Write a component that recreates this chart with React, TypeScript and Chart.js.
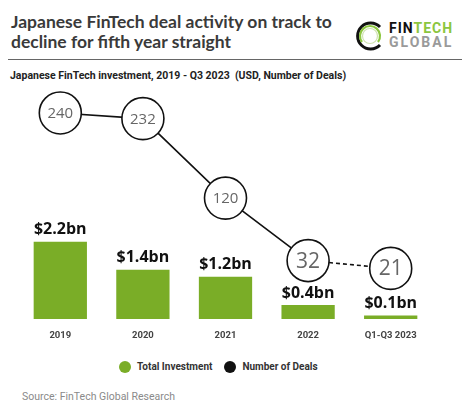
import React, { useEffect, useRef } from 'react';
import { Chart, registerables, Plugin } from 'chart.js';

Chart.register(...registerables);

// data
const categories = ['2019', '2020', '2021', '2022', 'Q1-Q3 2023'];
const investment = [2.2, 1.4, 1.2, 0.4, 0.1];
const investmentLabels = ['$2.2bn', '$1.4bn', '$1.2bn', '$0.4bn', '$0.1bn'];
const deals = [240, 232, 120, 32, 21];

const GREEN = '#7aad27';

// writes the $ values above the bars and the deal counts inside the circles
const labelPlugin: Plugin = {
  id: 'labels',
  afterDatasetsDraw(chart) {
    const ctx = chart.ctx;
    ctx.save();
    ctx.textAlign = 'center';

    const bars = chart.getDatasetMeta(0).data;
    ctx.fillStyle = '#111';
    ctx.font = 'bold 16px "Open Sans"';
    ctx.textBaseline = 'middle';
    bars.forEach((bar, i) => {
      ctx.fillText(investmentLabels[i], bar.x, bar.y - 12);
    });

    const points = chart.getDatasetMeta(1).data;
    ctx.fillStyle = '#666';
    points.forEach((pt, i) => {
      const big = deals[i] < 100;
      ctx.font = (big ? '21px' : '15px') + ' "Open Sans"';
      ctx.fillText(String(deals[i]), pt.x, pt.y + 1);
    });
    ctx.restore();
  },
};

const ChartBox: React.FC = () => {
  const canvasRef = useRef<HTMLCanvasElement | null>(null);

  useEffect(() => {
    if (!canvasRef.current) return;
    const chart = new Chart(canvasRef.current, {
      type: 'bar',
      data: {
        labels: categories,
        datasets: [
          {
            type: 'bar',
            label: 'Total Investment',
            data: investment,
            backgroundColor: GREEN,
            yAxisID: 'y',
            barPercentage: 0.645,
            categoryPercentage: 1,
            order: 1,
          },
          {
            type: 'line',
            label: 'Number of Deals',
            data: deals,
            yAxisID: 'y1',
            borderColor: '#111',
            borderWidth: 1.6,
            pointRadius: 21,
            pointBackgroundColor: '#fff',
            pointBorderColor: '#111',
            pointBorderWidth: 1.6,
            clip: false,
            order: 0,
            segment: {
              borderDash: (c: any) => (c.p1DataIndex === 4 ? [4, 3] : undefined),
            },
          },
        ],
      },
      options: {
        animation: false,
        responsive: true,
        maintainAspectRatio: false,
        events: [],
        layout: { autoPadding: false, padding: { left: 19, right: 42, top: 8, bottom: 4.6 } },
        plugins: {
          legend: { display: false },
          tooltip: { enabled: false },
        },
        scales: {
          x: {
            grid: { display: false, drawTicks: false },
            border: { display: false },
            ticks: {
              color: '#444',
              padding: 11,
              font: { family: 'Roboto', weight: 'bold', size: 9.5 },
            },
          },
          y: { display: false, min: 0, max: 6.46 },
          y1: { display: false, min: -50.3, max: 269.5 },
        },
      },
      plugins: [labelPlugin],
    });
    return () => chart.destroy();
  }, []);

  return (
    <div style={{ position: 'absolute', left: 0, top: 84, width: 474, height: 273 }}>
      <canvas ref={canvasRef}></canvas>
    </div>
  );
};

const Logo: React.FC = () => (
  <div style={{ position: 'absolute', left: 354, top: 20, width: 110, height: 34 }}>
    <svg width="32" height="32" viewBox="0 0 32 32" style={{ position: 'absolute', left: 0, top: 0 }}>
      <path d="M 26 7 A 13 13 0 1 0 26 25" fill="none" stroke="#111" strokeWidth="3" />
      <path d="M 8 22 A 10 10 0 1 1 24 22" fill="none" stroke="#8cc63f" strokeWidth="2.2" />
      <circle cx="16" cy="16" r="7.5" fill="none" stroke="#cfe3b0" strokeWidth="1.2" />
    </svg>
    <div
      style={{
        position: 'absolute',
        left: 35,
        top: 1,
        font: 'bold 14px/14px Roboto',
        letterSpacing: 1,
        color: '#111',
      }}
    >
      FIN<span style={{ color: '#8cc63f' }}>TECH</span>
    </div>
    <div
      style={{
        position: 'absolute',
        left: 35,
        top: 15,
        font: 'bold 14px/14px Roboto',
        letterSpacing: 2,
        color: '#9a9a9a',
      }}
    >
      GLOBAL
    </div>
  </div>
);

const App: React.FC = () => {
  return (
    <div
      style={{
        position: 'fixed',
        left: 0,
        top: 0,
        width: 474,
        height: 415,
        background: '#fff',
        overflow: 'hidden',
      }}
    >
      <div
        style={{
          position: 'absolute',
          left: 11,
          top: 12,
          font: '700 17.5px/20px Lato',
          color: '#3a3a3a',
          whiteSpace: 'nowrap',
        }}
      >
        Japanese FinTech deal activity on track to
        <br />
        decline for fifth year straight
      </div>
      <Logo />
      <div style={{ position: 'absolute', left: 8, top: 58.5, width: 454, height: 1.5, background: '#666' }} />
      <div
        style={{
          position: 'absolute',
          left: 10,
          top: 69,
          font: 'bold 10.5px/14px Roboto',
          color: '#222',
          whiteSpace: 'pre',
        }}
      >
        {'Japanese FinTech investment, 2019 - Q3 2023  (USD, Number of Deals)'}
      </div>
      <ChartBox />
      <div
        style={{
          position: 'absolute',
          left: 119,
          top: 360,
          display: 'flex',
          alignItems: 'center',
          font: 'bold 10px/14px Roboto',
          color: '#333',
        }}
      >
        <span style={{ width: 12, height: 12, borderRadius: 6, background: GREEN, marginRight: 6 }} />
        <span style={{ marginRight: 12 }}>Total Investment</span>
        <span style={{ width: 12, height: 12, borderRadius: 6, background: '#111', marginRight: 6 }} />
        <span>Number of Deals</span>
      </div>
      <div
        style={{
          position: 'absolute',
          left: 22,
          top: 390,
          font: '10.5px/14px Roboto',
          color: '#8a8a8a',
        }}
      >
        Source: FinTech Global Research
      </div>
    </div>
  );
};

export default App;
